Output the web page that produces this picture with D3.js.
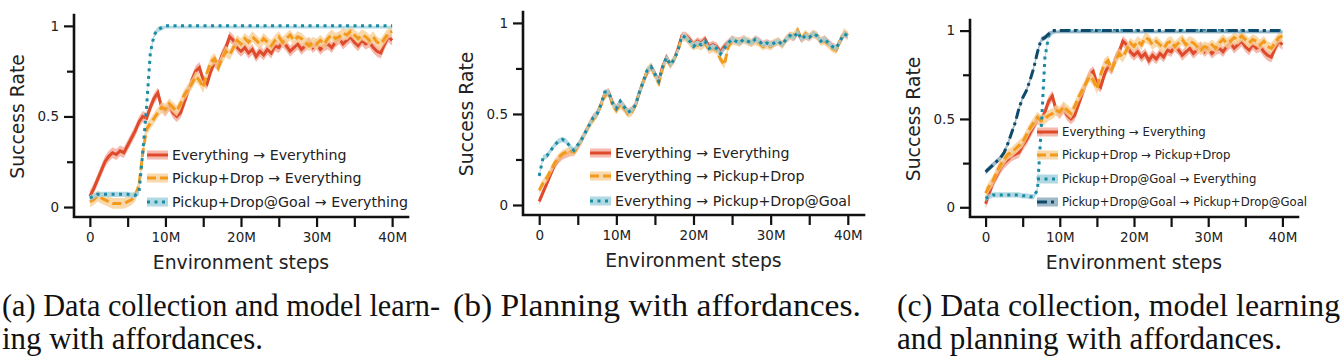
<!DOCTYPE html>
<html>
<head>
<meta charset="utf-8">
<script src="https://cdn.jsdelivr.net/npm/d3@7"></script>
<style>
  body { margin: 0; background: #fff; }
  svg { display: block; }
  .tick text { font-family: "DejaVu Sans", sans-serif; fill: #222; }
  .ttl { font-family: "DejaVu Sans", sans-serif; fill: #222; }
  .cap { font-family: "Liberation Serif", "Times New Roman", serif; fill: #111; }
</style>
</head>
<body>
<div id="chart"></div>
<script>
// sample grid, millions of environment steps
var steps = d3.range(0, 40.5, 0.5);

var xTicks = [0, 10, 20, 30, 40];
var xMinorTicks = [5, 15, 25, 35];
var xTickLabels = ["0", "10M", "20M", "30M", "40M"];
var yTicks = [0, 0.5, 1];
var yMinorTicks = [0.25, 0.75];
var yTickLabels = ["0", "0.5", "1"];

// (a) data collection and model learning
var aRed = [0.06,0.10,0.15,0.20,0.25,0.28,0.30,0.29,0.31,0.30,
  0.34,0.38,0.42,0.47,0.50,0.49,0.55,0.60,0.63,0.55,
  0.53,0.56,0.52,0.50,0.52,0.58,0.64,0.70,0.75,0.77,
  0.70,0.68,0.75,0.80,0.78,0.84,0.88,0.94,0.92,0.88,
  0.86,0.88,0.85,0.87,0.83,0.86,0.84,0.87,0.85,0.89,
  0.88,0.91,0.89,0.86,0.88,0.90,0.87,0.89,0.91,0.88,
  0.90,0.87,0.89,0.90,0.88,0.91,0.93,0.90,0.92,0.94,
  0.91,0.89,0.92,0.90,0.91,0.88,0.86,0.85,0.90,0.94,0.92];
var aOrange = [0.03,0.04,0.06,0.05,0.04,0.03,0.02,0.02,0.02,0.02,
  0.03,0.04,0.06,0.12,0.30,0.43,0.46,0.49,0.52,0.55,
  0.54,0.57,0.55,0.53,0.57,0.62,0.65,0.68,0.72,0.70,
  0.66,0.74,0.80,0.82,0.77,0.82,0.86,0.84,0.88,0.92,
  0.90,0.93,0.91,0.94,0.92,0.90,0.93,0.91,0.89,0.92,
  0.94,0.91,0.93,0.95,0.92,0.94,0.93,0.91,0.89,0.91,
  0.90,0.92,0.90,0.93,0.95,0.93,0.94,0.96,0.95,0.97,
  0.95,0.93,0.95,0.94,0.92,0.94,0.91,0.90,0.93,0.96,0.97];
var aTeal = [0.05,0.06,0.07,0.07,0.07,0.07,0.07,0.07,0.07,0.07,
  0.07,0.065,0.065,0.08,0.30,0.55,0.85,0.95,0.98,0.99,
  1,1,1,1,1,1,1,1,1,1, 1,1,1,1,1,1,1,1,1,1,
  1,1,1,1,1,1,1,1,1,1, 1,1,1,1,1,1,1,1,1,1,
  1,1,1,1,1,1,1,1,1,1, 1,1,1,1,1,1,1,1,1,1,1];

// (b) planning with affordances
var bRed = [0.02,0.07,0.12,0.17,0.22,0.25,0.27,0.28,0.29,0.29,
  0.32,0.36,0.40,0.44,0.48,0.50,0.55,0.61,0.62,0.56,
  0.53,0.56,0.54,0.51,0.52,0.55,0.62,0.68,0.73,0.76,
  0.72,0.68,0.76,0.81,0.77,0.80,0.86,0.93,0.93,0.91,
  0.88,0.90,0.89,0.91,0.87,0.88,0.87,0.84,0.87,0.89,
  0.91,0.90,0.90,0.91,0.90,0.89,0.91,0.90,0.88,0.89,
  0.88,0.89,0.90,0.88,0.91,0.93,0.92,0.95,0.91,0.93,
  0.92,0.94,0.93,0.90,0.91,0.89,0.87,0.86,0.90,0.94,0.93];
var bOrange = [0.08,0.12,0.15,0.19,0.23,0.26,0.28,0.29,0.30,0.29,
  0.32,0.36,0.40,0.44,0.47,0.50,0.55,0.60,0.62,0.55,
  0.52,0.55,0.53,0.50,0.51,0.55,0.62,0.68,0.74,0.76,
  0.71,0.67,0.75,0.80,0.77,0.80,0.85,0.92,0.92,0.89,
  0.87,0.88,0.87,0.89,0.85,0.86,0.85,0.80,0.77,0.87,
  0.90,0.90,0.89,0.91,0.90,0.89,0.90,0.89,0.87,0.88,
  0.87,0.89,0.90,0.88,0.91,0.93,0.93,0.96,0.91,0.94,
  0.92,0.94,0.93,0.90,0.90,0.88,0.86,0.85,0.90,0.95,0.93];
var bTeal = [0.16,0.26,0.27,0.30,0.33,0.35,0.36,0.35,0.32,0.30,
  0.33,0.36,0.40,0.44,0.48,0.50,0.55,0.62,0.62,0.56,
  0.53,0.57,0.54,0.51,0.52,0.55,0.62,0.68,0.74,0.76,
  0.72,0.68,0.76,0.81,0.77,0.80,0.85,0.93,0.92,0.90,
  0.87,0.89,0.88,0.90,0.86,0.87,0.86,0.83,0.86,0.89,
  0.91,0.90,0.89,0.91,0.90,0.89,0.91,0.90,0.88,0.89,
  0.88,0.89,0.90,0.88,0.91,0.93,0.92,0.95,0.91,0.93,
  0.92,0.94,0.93,0.90,0.91,0.89,0.87,0.86,0.90,0.94,0.93];

// (c) data collection, model learning and planning
var cRed = [0.02,0.08,0.14,0.18,0.22,0.25,0.27,0.29,0.30,0.31,
  0.35,0.38,0.42,0.46,0.50,0.49,0.54,0.60,0.63,0.55,
  0.53,0.56,0.52,0.50,0.52,0.58,0.64,0.70,0.75,0.77,
  0.70,0.68,0.75,0.80,0.78,0.84,0.88,0.94,0.92,0.88,
  0.86,0.88,0.85,0.87,0.83,0.86,0.84,0.87,0.85,0.89,
  0.88,0.91,0.89,0.86,0.88,0.90,0.87,0.89,0.91,0.88,
  0.90,0.87,0.89,0.90,0.88,0.91,0.93,0.90,0.92,0.94,
  0.91,0.89,0.92,0.90,0.91,0.88,0.86,0.85,0.90,0.94,0.92];
var cOrange = [0.08,0.12,0.15,0.20,0.24,0.27,0.30,0.31,0.33,0.35,
  0.37,0.41,0.45,0.48,0.51,0.49,0.50,0.52,0.53,0.55,
  0.54,0.57,0.55,0.53,0.57,0.62,0.66,0.70,0.74,0.72,
  0.67,0.75,0.81,0.83,0.78,0.83,0.87,0.85,0.89,0.93,
  0.91,0.94,0.92,0.96,0.95,0.92,0.94,0.92,0.90,0.93,
  0.94,0.91,0.93,0.95,0.92,0.94,0.93,0.91,0.89,0.91,
  0.90,0.92,0.90,0.93,0.95,0.93,0.94,0.96,0.95,0.97,
  0.95,0.93,0.95,0.94,0.92,0.94,0.91,0.90,0.93,0.96,0.97];
var cTeal = [0.05,0.06,0.07,0.07,0.07,0.07,0.07,0.07,0.07,0.07,
  0.065,0.065,0.06,0.06,0.10,0.45,0.85,0.97,0.99,1,
  1,1,1,1,1,1,1,1,1,1, 1,1,1,1,1,1,1,1,1,1,
  1,1,1,1,1,1,1,1,1,1, 1,1,1,1,1,1,1,1,1,1,
  1,1,1,1,1,1,1,1,1,1, 1,1,1,1,1,1,1,1,1,1,1];
var cNavy = [0.20,0.22,0.24,0.26,0.28,0.31,0.36,0.42,0.48,0.56,
  0.62,0.66,0.72,0.79,0.88,0.95,0.96,0.98,1,1,
  1,1,1,1,1,1,1,1,1,1, 1,1,1,1,1,1,1,1,1,1,
  1,1,1,1,1,1,1,1,1,1, 1,1,1,1,1,1,1,1,1,1,
  1,1,1,1,1,1,1,1,1,1, 1,1,1,1,1,1,1,1,1,1,1];

var aLabels = ["Everything \u2192 Everything", "Pickup+Drop \u2192 Everything", "Pickup+Drop@Goal \u2192 Everything"];
var bLabels = ["Everything \u2192 Everything", "Everything \u2192 Pickup+Drop", "Everything \u2192 Pickup+Drop@Goal"];
var cLabels = ["Everything \u2192 Everything", "Pickup+Drop \u2192 Pickup+Drop", "Pickup+Drop@Goal \u2192 Everything", "Pickup+Drop@Goal \u2192 Pickup+Drop@Goal"];

// line styles
var styles = {
  red:    {line: "#df4a2a", band: "#f2a898", dash: null},
  orange: {line: "#f39a1c", band: "#f8cf96", dash: "9,4"},
  teal:   {line: "#1a8ba3", band: "#9dd0dc", dash: "3,4.5"},
  navy:   {line: "#0d4a6b", band: "#86a6ba", dash: "10,4,3,4"}
};

var svg = d3.select("#chart").append("svg")
    .attr("width", 1342)
    .attr("height", 359);

function drawPanel(p) {
  var g = svg.append("g");

  var xScale = d3.scaleLinear().domain([-2.1, 42.1]).range([p.left, p.right]);
  var yScale = d3.scaleLinear().domain([-0.055, 1.06]).range([p.bottom, p.top]);

  // series: band then line
  p.series.forEach(function(s) {
    var st = styles[s.style];
    var pts = steps.map(function(x, i) { return {x: x, y: s.values[i]}; });
    var area = d3.area()
        .x(function(d) { return xScale(d.x); })
        .y0(function(d) { return yScale(d.y - s.spread); })
        .y1(function(d) { return yScale(Math.min(d.y + s.spread, 1.0)); });
    g.append("path")
        .datum(pts)
        .attr("d", area)
        .attr("fill", st.band)
        .attr("opacity", 0.8);
    var line = d3.line()
        .x(function(d) { return xScale(d.x); })
        .y(function(d) { return yScale(d.y); });
    g.append("path")
        .datum(pts)
        .attr("d", line)
        .attr("fill", "none")
        .attr("stroke", st.line)
        .attr("stroke-width", 3)
        .attr("stroke-dasharray", st.dash);
  });

  // axes
  var xAxis = d3.axisBottom(xScale).tickValues(xTicks)
      .tickFormat(function(d, i) { return xTickLabels[i]; })
      .tickSize(10).tickPadding(5);
  var xAxisMinor = d3.axisBottom(xScale).tickValues(xMinorTicks)
      .tickFormat("").tickSize(10);
  var yAxis = d3.axisLeft(yScale).tickValues(yTicks)
      .tickFormat(function(d, i) { return yTickLabels[i]; })
      .tickSize(10).tickPadding(5);
  var yAxisMinor = d3.axisLeft(yScale).tickValues(yMinorTicks)
      .tickFormat("").tickSize(7);

  [xAxis, xAxisMinor].forEach(function(ax) {
    var a = g.append("g")
        .attr("transform", "translate(0," + p.bottom + ")")
        .call(ax);
    a.select(".domain").remove();
    a.selectAll("line").attr("stroke", "#111").attr("stroke-width", 2.2);
    a.selectAll("text").attr("font-size", 13.5);
  });
  [yAxis, yAxisMinor].forEach(function(ax) {
    var a = g.append("g")
        .attr("transform", "translate(" + p.left + ",0)")
        .call(ax);
    a.select(".domain").remove();
    a.selectAll("line").attr("stroke", "#111").attr("stroke-width", 2.2);
    a.selectAll("text").attr("font-size", 13.5);
  });

  // spines
  g.append("path")
      .attr("d", "M" + p.left + "," + p.top + "V" + p.bottom + "H" + p.right)
      .attr("fill", "none")
      .attr("stroke", "#111")
      .attr("stroke-width", 2.6)
      .attr("stroke-linecap", "square");

  g.append("text")
      .attr("class", "ttl")
      .attr("x", (xScale(0) + xScale(40)) / 2)
      .attr("y", p.bottom + 52)
      .attr("text-anchor", "middle")
      .attr("font-size", 18.8)
      .text("Environment steps");

  g.append("text")
      .attr("class", "ttl")
      .attr("transform", "translate(" + p.yTitleX + "," + yScale(0.5) + ") rotate(-90)")
      .attr("text-anchor", "middle")
      .attr("font-size", 18.8)
      .text("Success Rate");

  // legend
  var lg = g.append("g");
  p.series.forEach(function(s, i) {
    var st = styles[s.style];
    var ly = p.legY[i];
    lg.append("rect")
        .attr("x", p.legX).attr("y", ly - 4.5)
        .attr("width", 21).attr("height", 9)
        .attr("fill", st.band).attr("opacity", 0.8);
    lg.append("line")
        .attr("x1", p.legX).attr("x2", p.legX + 21)
        .attr("y1", ly).attr("y2", ly)
        .attr("stroke", st.line).attr("stroke-width", 3)
        .attr("stroke-dasharray", st.dash);
    lg.append("text")
        .attr("class", "ttl")
        .attr("x", p.legX + 25).attr("y", ly)
        .attr("dy", "0.36em")
        .attr("font-size", p.legFont)
        .text(p.labels[i]);
  });

  // caption
  p.caption.forEach(function(c, i) {
    svg.append("text")
        .attr("class", "cap")
        .attr("x", p.capX)
        .attr("y", 316 + i * 33)
        .attr("font-size", 31)
        .attr("textLength", c.w)
        .attr("lengthAdjust", "spacingAndGlyphs")
        .text(c.t);
  });
}

drawPanel({
  left: 74, right: 408, top: 15, bottom: 217, yTitleX: 24,
  series: [
    {values: aRed, style: "red", spread: 0.03},
    {values: aOrange, style: "orange", spread: 0.03},
    {values: aTeal, style: "teal", spread: 0.015}
  ],
  labels: aLabels, legX: 147, legY: [155, 178, 202], legFont: 14.2,
  capX: 2,
  caption: [{t: "(a) Data collection and model learn-", w: 438}, {t: "ing with affordances.", w: 261}]
});

drawPanel({
  left: 523, right: 864, top: 12, bottom: 215, yTitleX: 473,
  series: [
    {values: bRed, style: "red", spread: 0.022},
    {values: bOrange, style: "orange", spread: 0.022},
    {values: bTeal, style: "teal", spread: 0.015}
  ],
  labels: bLabels, legX: 590, legY: [153, 176, 201], legFont: 14.2,
  capX: 453,
  caption: [{t: "(b) Planning with affordances.", w: 408}]
});

drawPanel({
  left: 970, right: 1298, top: 20, bottom: 217, yTitleX: 920,
  series: [
    {values: cRed, style: "red", spread: 0.03},
    {values: cOrange, style: "orange", spread: 0.03},
    {values: cTeal, style: "teal", spread: 0.015},
    {values: cNavy, style: "navy", spread: 0.015}
  ],
  labels: cLabels, legX: 1037, legY: [132, 155, 179, 202], legFont: 11.7,
  capX: 897,
  caption: [{t: "(c) Data collection, model learning", w: 443}, {t: "and planning with affordances.", w: 385}]
});
</script>
</body>
</html>
